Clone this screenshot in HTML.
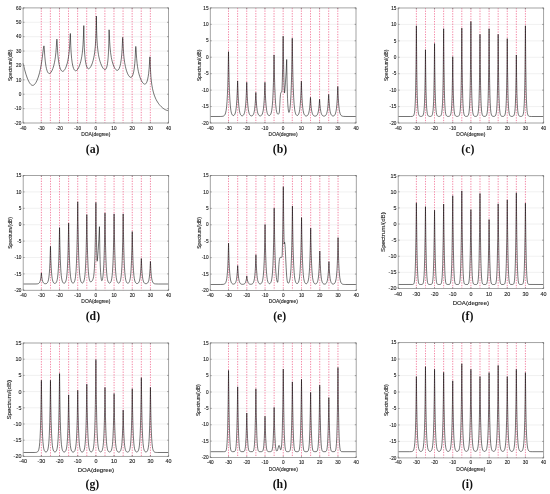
<!DOCTYPE html>
<html><head><meta charset="utf-8"><title>DOA spectra</title><style>
*{margin:0;padding:0}
html,body{width:550px;height:494px;overflow:hidden;background:#fff}
svg{display:block}
.gr{stroke:#ebebeb;stroke-width:0.7}
.rd{stroke:#ee4a78;stroke-width:0.9;stroke-dasharray:1.3 1.3;opacity:0.75}
.cv{fill:none;stroke:#000;stroke-width:0.55;stroke-linejoin:round}
.fr{fill:none;stroke:#9a9a9a;stroke-width:0.9}
.tk{stroke:#666;stroke-width:0.6;fill:none}
.ts{font-family:"Liberation Sans",Arial,sans-serif;font-size:4.7px;fill:#1e1e1e;stroke:#1e1e1e;stroke-width:0.12px}
.tb{font-family:"Liberation Sans",Arial,sans-serif;font-size:5.4px;fill:#1e1e1e;stroke:#1e1e1e;stroke-width:0.12px}
.ls{font-family:"Liberation Sans",Arial,sans-serif;font-size:4.9px;fill:#1e1e1e;stroke:#1e1e1e;stroke-width:0.12px}
.lb{font-family:"Liberation Sans",Arial,sans-serif;font-size:6.15px;fill:#1e1e1e;stroke:#1e1e1e;stroke-width:0.12px}
.pl{font-family:"Liberation Serif","Times New Roman",serif;font-size:11.8px;font-weight:bold;fill:#111}
</style></head>
<body><svg width="550" height="494" viewBox="0 0 550 494">
<defs><filter id="bl" x="-5%" y="-5%" width="110%" height="110%"><feGaussianBlur stdDeviation="0.3"/></filter></defs>
<rect width="550" height="494" fill="#fff"/>
<g filter="url(#bl)"><line x1="23.1" y1="108.61" x2="168.5" y2="108.61" class="gr"/><line x1="23.1" y1="94.22" x2="168.5" y2="94.22" class="gr"/><line x1="23.1" y1="79.84" x2="168.5" y2="79.84" class="gr"/><line x1="23.1" y1="65.45" x2="168.5" y2="65.45" class="gr"/><line x1="23.1" y1="51.06" x2="168.5" y2="51.06" class="gr"/><line x1="23.1" y1="36.68" x2="168.5" y2="36.68" class="gr"/><line x1="23.1" y1="22.29" x2="168.5" y2="22.29" class="gr"/><line x1="41.28" y1="7.9" x2="41.28" y2="123" class="rd"/><line x1="50.36" y1="7.9" x2="50.36" y2="123" class="rd"/><line x1="59.45" y1="7.9" x2="59.45" y2="123" class="rd"/><line x1="68.54" y1="7.9" x2="68.54" y2="123" class="rd"/><line x1="77.62" y1="7.9" x2="77.62" y2="123" class="rd"/><line x1="86.71" y1="7.9" x2="86.71" y2="123" class="rd"/><line x1="95.8" y1="7.9" x2="95.8" y2="123" class="rd"/><line x1="104.89" y1="7.9" x2="104.89" y2="123" class="rd"/><line x1="113.97" y1="7.9" x2="113.97" y2="123" class="rd"/><line x1="123.06" y1="7.9" x2="123.06" y2="123" class="rd"/><line x1="132.15" y1="7.9" x2="132.15" y2="123" class="rd"/><line x1="141.24" y1="7.9" x2="141.24" y2="123" class="rd"/><line x1="150.33" y1="7.9" x2="150.33" y2="123" class="rd"/><path d="M23.1,63.18 24.64,69.61 25.92,74.13 27.28,78.08 27.92,79.63 28.64,81.18 29.37,82.51 30.01,83.48 30.73,84.35 31.37,84.91 32.1,85.28 32.73,85.38 33.37,85.25 34.01,84.9 34.64,84.33 35.37,83.41 36.1,82.23 36.82,80.77 37.55,79.05 38.28,77.04 38.91,75.01 39.55,72.7 40.55,68.34 41.4,63.68 42.18,58.33 43.45,48.03 43.72,46.49 43.95,45.9 44.01,45.87 44.05,45.99 44.16,46.85 44.78,56.23 45.33,61.96 46,66.46 46.43,68.51 46.91,70.23 47.45,71.67 48,72.64 48.55,73.23 48.82,73.4 49.18,73.5 49.45,73.5 49.82,73.39 50.18,73.17 50.54,72.85 51.18,72.05 51.91,70.79 52.82,68.65 53.72,65.77 54.45,62.68 55.05,59.37 55.49,56.2 55.91,52.23 56.27,47.63 56.72,40.45 56.82,39.43 56.91,39.11 57.05,40.55 57.54,50.3 57.92,55.4 58.45,60.25 59.18,64.61 59.63,66.54 60.09,68.05 60.55,69.23 61.09,70.23 61.63,70.9 62.18,71.26 62.45,71.34 62.81,71.33 63.45,71.08 64.08,70.52 64.81,69.53 65.45,68.37 66.08,66.9 66.71,65.1 67.27,63.18 67.75,61.13 68.17,59.01 68.84,54.65 69.36,49.72 69.76,43.99 70.23,34.63 70.36,33.51 70.78,45.81 71.08,51.93 71.6,58.24 72.21,62.9 72.63,65.09 73.08,66.92 73.54,68.3 74.08,69.48 74.63,70.24 75.17,70.66 75.45,70.75 75.81,70.77 76.44,70.54 77.17,69.91 77.99,68.8 78.81,67.27 79.53,65.52 80.17,63.65 80.81,61.34 81.35,58.9 81.81,56.39 82.18,53.84 82.53,50.84 83.03,44.84 83.38,37.92 83.8,25.6 84.07,39.54 84.32,47.39 84.71,54.18 85.26,59.72 85.62,62.2 85.99,64.09 86.41,65.74 86.89,67.11 87.44,68.08 87.98,68.6 88.26,68.72 88.62,68.75 88.9,68.69 89.26,68.5 89.62,68.21 90.07,67.7 90.89,66.43 91.71,64.71 92.44,62.76 93.07,60.64 93.71,58.01 94.26,55.16 94.71,52.13 95.35,46.03 95.79,38.77 96.07,30.42 96.35,16.1 96.63,30.12 96.9,38.01 97.34,45.26 97.97,51.28 98.44,54.41 98.89,56.85 99.44,59.25 100.07,61.54 100.8,63.68 101.53,65.45 102.34,67.07 103.16,68.33 103.89,69.13 104.25,69.4 104.61,69.57 104.9,69.62 105.25,69.56 105.52,69.42 105.8,69.16 106.29,68.37 106.7,67.26 107.16,65.44 107.52,63.36 107.83,61 108.12,57.93 108.52,51.39 108.79,43.75 109.07,29.77 109.19,31.05 109.66,41.7 110.02,46.99 110.59,52.61 111.34,57.51 111.79,59.72 112.34,61.92 112.96,63.98 113.61,65.74 114.34,67.34 115.07,68.6 115.79,69.54 116.52,70.13 117.16,70.34 117.7,70.25 118.25,69.89 118.8,69.18 119.29,68.22 119.79,66.86 120.25,65.2 120.61,63.51 121.28,59.16 121.79,54.01 122.15,48.57 122.57,38.83 122.7,37.39 122.82,38.56 123.22,47.42 123.59,53.25 124.03,58 124.61,62.4 125.43,66.74 126.33,70.2 126.86,71.79 127.42,73.22 127.97,74.4 128.61,75.54 129.33,76.52 130.06,77.16 130.7,77.39 131.02,77.37 131.33,77.25 131.89,76.77 132.42,75.92 132.97,74.56 133.42,72.94 133.8,71.19 134.16,69.01 134.77,63.69 135.15,58.49 135.66,47.77 135.78,46.45 135.87,46.81 135.96,47.86 136.61,58.2 137.15,63.78 137.52,66.65 137.97,69.39 138.42,71.68 138.97,73.97 139.69,76.43 140.51,78.67 141.42,80.65 142.33,82.19 143.24,83.32 143.69,83.72 144.15,84 144.6,84.14 144.96,84.14 145.33,84.03 145.69,83.79 146.07,83.4 146.42,82.86 146.78,82.12 147.14,81.15 147.69,79.17 148.23,76.34 148.63,73.48 149.01,69.83 149.33,65.76 149.8,58.03 149.96,56.8 150.05,57.99 150.36,66.76 150.6,71.87 150.91,76.54 151.32,80.94 151.87,85.07 152.51,88.63 153.32,92.09 154.23,95.05 155.41,98.06 156.14,99.59 156.87,100.95 158.41,103.37 159.32,104.58 160.23,105.64 161.23,106.68 162.23,107.59 163.23,108.39 164.32,109.13 165.41,109.75 166.41,110.2 167.5,110.56 168.5,110.77" class="cv"/><rect x="23.1" y="7.9" width="145.4" height="115.1" class="fr"/><path d="M23.1,123h1.4M168.5,123h-1.4" class="tk"/><path d="M23.1,108.61h1.4M168.5,108.61h-1.4" class="tk"/><path d="M23.1,94.22h1.4M168.5,94.22h-1.4" class="tk"/><path d="M23.1,79.84h1.4M168.5,79.84h-1.4" class="tk"/><path d="M23.1,65.45h1.4M168.5,65.45h-1.4" class="tk"/><path d="M23.1,51.06h1.4M168.5,51.06h-1.4" class="tk"/><path d="M23.1,36.68h1.4M168.5,36.68h-1.4" class="tk"/><path d="M23.1,22.29h1.4M168.5,22.29h-1.4" class="tk"/><path d="M23.1,7.9h1.4M168.5,7.9h-1.4" class="tk"/><path d="M23.1,123v-1.4M23.1,7.9v1.4" class="tk"/><path d="M41.28,123v-1.4M41.28,7.9v1.4" class="tk"/><path d="M59.45,123v-1.4M59.45,7.9v1.4" class="tk"/><path d="M77.62,123v-1.4M77.62,7.9v1.4" class="tk"/><path d="M95.8,123v-1.4M95.8,7.9v1.4" class="tk"/><path d="M113.97,123v-1.4M113.97,7.9v1.4" class="tk"/><path d="M132.15,123v-1.4M132.15,7.9v1.4" class="tk"/><path d="M150.33,123v-1.4M150.33,7.9v1.4" class="tk"/><path d="M168.5,123v-1.4M168.5,7.9v1.4" class="tk"/></g><text x="21.3" y="124.69" class="ts" text-anchor="end">-20</text><text x="21.3" y="110.3" class="ts" text-anchor="end">-10</text><text x="21.3" y="95.92" class="ts" text-anchor="end">0</text><text x="21.3" y="81.53" class="ts" text-anchor="end">10</text><text x="21.3" y="67.14" class="ts" text-anchor="end">20</text><text x="21.3" y="52.75" class="ts" text-anchor="end">30</text><text x="21.3" y="38.37" class="ts" text-anchor="end">40</text><text x="21.3" y="23.98" class="ts" text-anchor="end">50</text><text x="21.3" y="9.59" class="ts" text-anchor="end">60</text><text x="23.1" y="129.58" class="ts" text-anchor="middle">-40</text><text x="41.28" y="129.58" class="ts" text-anchor="middle">-30</text><text x="59.45" y="129.58" class="ts" text-anchor="middle">-20</text><text x="77.62" y="129.58" class="ts" text-anchor="middle">-10</text><text x="95.8" y="129.58" class="ts" text-anchor="middle">0</text><text x="113.97" y="129.58" class="ts" text-anchor="middle">10</text><text x="132.15" y="129.58" class="ts" text-anchor="middle">20</text><text x="150.33" y="129.58" class="ts" text-anchor="middle">30</text><text x="168.5" y="129.58" class="ts" text-anchor="middle">40</text><text x="95.8" y="135.76" class="ls" text-anchor="middle">DOA(degree)</text><text transform="translate(12.26,65.3) rotate(-90)" class="ls" text-anchor="middle">Spectrum/(dB)</text><text x="92.6" y="152.6" class="pl" text-anchor="middle">(a)</text>
<g filter="url(#bl)"><line x1="210.3" y1="106.56" x2="356" y2="106.56" class="gr"/><line x1="210.3" y1="90.11" x2="356" y2="90.11" class="gr"/><line x1="210.3" y1="73.67" x2="356" y2="73.67" class="gr"/><line x1="210.3" y1="57.23" x2="356" y2="57.23" class="gr"/><line x1="210.3" y1="40.79" x2="356" y2="40.79" class="gr"/><line x1="210.3" y1="24.34" x2="356" y2="24.34" class="gr"/><line x1="228.51" y1="7.9" x2="228.51" y2="123" class="rd"/><line x1="237.62" y1="7.9" x2="237.62" y2="123" class="rd"/><line x1="246.73" y1="7.9" x2="246.73" y2="123" class="rd"/><line x1="255.83" y1="7.9" x2="255.83" y2="123" class="rd"/><line x1="264.94" y1="7.9" x2="264.94" y2="123" class="rd"/><line x1="274.04" y1="7.9" x2="274.04" y2="123" class="rd"/><line x1="283.15" y1="7.9" x2="283.15" y2="123" class="rd"/><line x1="292.26" y1="7.9" x2="292.26" y2="123" class="rd"/><line x1="301.36" y1="7.9" x2="301.36" y2="123" class="rd"/><line x1="310.47" y1="7.9" x2="310.47" y2="123" class="rd"/><line x1="319.57" y1="7.9" x2="319.57" y2="123" class="rd"/><line x1="328.68" y1="7.9" x2="328.68" y2="123" class="rd"/><line x1="337.79" y1="7.9" x2="337.79" y2="123" class="rd"/><path d="M210.3,116.5 220.32,116.48 221.86,116.41 222.87,116.27 223.78,115.93 224.14,115.67 224.51,115.31 225.1,114.35 225.6,112.96 226.14,110.4 226.65,106.39 227.06,101.35 227.42,94.71 227.74,86.62 228.03,76.53 228.51,51.64 228.8,67.6 229.11,80.63 229.46,91.38 229.88,99.91 230.33,105.97 230.88,110.39 231.15,111.85 231.52,113.25 231.88,114.21 232.34,114.98 232.84,115.43 233.15,115.55 233.43,115.57 233.97,115.38 234.43,114.93 234.89,114.13 235.25,113.13 235.62,111.68 235.89,110.17 236.43,105.58 236.89,99.3 237.27,91.31 237.62,80.91 238.17,96.04 238.51,101.84 238.89,106.53 239.35,110.17 239.8,112.48 240.08,113.43 240.41,114.27 240.71,114.84 241.08,115.3 241.63,115.69 242.26,115.81 242.9,115.61 243.45,115.14 243.9,114.43 244.29,113.48 244.63,112.26 244.98,110.47 245.54,105.99 246,99.94 246.38,92.24 246.73,82.22 247.27,96.63 247.56,101.54 247.91,105.99 248.27,109.19 248.73,111.86 249.27,113.8 249.55,114.43 249.91,115.04 250.46,115.6 251,115.86 251.66,115.91 252.28,115.71 252.83,115.25 253.28,114.59 253.65,113.77 254.01,112.59 254.31,111.23 254.59,109.54 255.05,105.41 255.47,99.76 255.83,92.42 256.2,99.86 256.65,105.87 257.16,110.12 257.46,111.75 257.74,112.92 258.11,114.01 258.62,114.98 259.11,115.52 259.75,115.86 260.11,115.92 260.47,115.9 261.11,115.66 261.66,115.16 262.21,114.24 262.66,112.96 263.12,110.93 263.51,108.22 263.85,104.92 264.16,100.71 264.45,95.37 264.94,82.22 265.28,92.24 265.67,99.94 266.12,105.99 266.68,110.47 267.03,112.25 267.37,113.46 267.76,114.4 268.22,115.08 268.76,115.5 269.31,115.58 269.87,115.35 270.39,114.79 270.77,114.1 271.13,113.11 271.44,111.92 271.77,110.16 272.3,105.67 272.71,100.18 273.09,92.65 273.45,82.45 273.76,70.08 274.04,54.93 274.39,72.92 274.77,86.67 275.21,97.21 275.67,104.37 276.23,109.51 276.5,111.11 276.87,112.58 277.23,113.49 277.46,113.82 277.69,114.04 277.95,114.14 278.22,114.14 278.51,114.01 278.78,113.8 278.98,113.52 279.15,113.07 279.33,112.22 279.45,111.08 280.14,98.54 280.51,94.36 280.69,93.28 280.91,92.57 281.15,92.23 281.65,91.96 281.78,91.69 281.92,90.93 282.02,89.51 282.31,81.65 282.63,68.64 283.15,36.18 283.42,55.35 283.72,71.01 284.06,84.12 284.39,92.3 284.52,93.04 284.68,92.15 285.46,82.81 286.11,72.16 286.7,59.53 287.07,82.24 287.53,98.28 287.79,103.78 288.12,108.35 288.44,110.98 288.61,111.83 288.84,112.41 288.98,112.49 289.14,112.36 289.43,111.58 289.8,109.71 290.07,107.64 290.53,102.57 290.98,94.56 291.37,84.22 291.7,71.47 292.26,38.15 292.56,58.59 292.89,74.92 293.26,87.68 293.68,97.57 294.17,104.89 294.71,109.77 295.04,111.65 295.44,113.22 295.81,114.19 296.26,114.95 296.54,115.23 296.81,115.4 297.08,115.48 297.36,115.48 297.63,115.39 297.9,115.21 298.36,114.66 298.76,113.85 299.09,112.85 299.45,111.27 299.72,109.63 300.2,105.45 300.64,99.42 301.02,91.54 301.36,81.24 301.65,89.92 301.96,97 302.31,102.84 302.73,107.48 303.18,110.77 303.73,113.18 304,113.96 304.37,114.72 304.77,115.29 305.27,115.71 305.82,115.93 306.37,115.97 306.92,115.84 307.37,115.57 307.74,115.21 308.1,114.68 308.47,113.9 308.74,113.09 309.28,110.62 309.74,107.25 310.12,102.95 310.47,97.35 310.95,104.7 311.25,107.68 311.56,110.03 311.89,111.87 312.29,113.39 312.75,114.52 313.2,115.23 313.75,115.74 314.29,116.01 315.02,116.13 315.75,116.04 316.3,115.81 316.84,115.36 317.3,114.72 317.66,113.95 317.95,113.11 318.24,111.95 318.76,108.92 319.2,104.63 319.57,99.32 319.94,104.56 320.35,108.59 320.82,111.54 321.1,112.74 321.4,113.71 321.76,114.55 322.12,115.13 322.56,115.59 323.04,115.89 323.67,116.08 324.35,116.08 324.95,115.9 325.49,115.55 325.86,115.16 326.13,114.75 326.68,113.5 327.13,111.78 327.5,109.72 327.85,106.85 328.13,103.69 328.68,94.39 329.05,101.13 329.46,106.32 329.92,110.11 330.2,111.66 330.5,112.91 330.81,113.85 331.14,114.58 331.6,115.26 332.05,115.66 332.6,115.92 333.23,115.98 333.87,115.8 334.38,115.46 334.69,115.11 335.06,114.52 335.6,113.11 336.06,111.16 336.51,108.1 336.9,104.14 337.23,99.25 337.79,86.5 338.27,98.01 338.56,102.68 338.88,106.42 339.24,109.49 339.65,111.82 340.16,113.68 340.7,114.86 341.2,115.5 341.79,115.95 342.52,116.23 343.43,116.39 345.98,116.49 356,116.5" class="cv"/><rect x="210.3" y="7.9" width="145.7" height="115.1" class="fr"/><path d="M210.3,123h1.4M356,123h-1.4" class="tk"/><path d="M210.3,106.56h1.4M356,106.56h-1.4" class="tk"/><path d="M210.3,90.11h1.4M356,90.11h-1.4" class="tk"/><path d="M210.3,73.67h1.4M356,73.67h-1.4" class="tk"/><path d="M210.3,57.23h1.4M356,57.23h-1.4" class="tk"/><path d="M210.3,40.79h1.4M356,40.79h-1.4" class="tk"/><path d="M210.3,24.34h1.4M356,24.34h-1.4" class="tk"/><path d="M210.3,7.9h1.4M356,7.9h-1.4" class="tk"/><path d="M210.3,123v-1.4M210.3,7.9v1.4" class="tk"/><path d="M228.51,123v-1.4M228.51,7.9v1.4" class="tk"/><path d="M246.73,123v-1.4M246.73,7.9v1.4" class="tk"/><path d="M264.94,123v-1.4M264.94,7.9v1.4" class="tk"/><path d="M283.15,123v-1.4M283.15,7.9v1.4" class="tk"/><path d="M301.36,123v-1.4M301.36,7.9v1.4" class="tk"/><path d="M319.57,123v-1.4M319.57,7.9v1.4" class="tk"/><path d="M337.79,123v-1.4M337.79,7.9v1.4" class="tk"/><path d="M356,123v-1.4M356,7.9v1.4" class="tk"/></g><text x="208.5" y="124.69" class="ts" text-anchor="end">-20</text><text x="208.5" y="108.25" class="ts" text-anchor="end">-15</text><text x="208.5" y="91.81" class="ts" text-anchor="end">-10</text><text x="208.5" y="75.36" class="ts" text-anchor="end">-5</text><text x="208.5" y="58.92" class="ts" text-anchor="end">0</text><text x="208.5" y="42.48" class="ts" text-anchor="end">5</text><text x="208.5" y="26.03" class="ts" text-anchor="end">10</text><text x="208.5" y="9.59" class="ts" text-anchor="end">15</text><text x="210.3" y="129.58" class="ts" text-anchor="middle">-40</text><text x="228.51" y="129.58" class="ts" text-anchor="middle">-30</text><text x="246.73" y="129.58" class="ts" text-anchor="middle">-20</text><text x="264.94" y="129.58" class="ts" text-anchor="middle">-10</text><text x="283.15" y="129.58" class="ts" text-anchor="middle">0</text><text x="301.36" y="129.58" class="ts" text-anchor="middle">10</text><text x="319.57" y="129.58" class="ts" text-anchor="middle">20</text><text x="337.79" y="129.58" class="ts" text-anchor="middle">30</text><text x="356" y="129.58" class="ts" text-anchor="middle">40</text><text x="283.15" y="135.76" class="ls" text-anchor="middle">DOA(degree)</text><text transform="translate(200.56,65.3) rotate(-90)" class="ls" text-anchor="middle">Spectrum/(dB)</text><text x="280" y="152.8" class="pl" text-anchor="middle">(b)</text>
<g filter="url(#bl)"><line x1="398.2" y1="106.57" x2="543.6" y2="106.57" class="gr"/><line x1="398.2" y1="90.14" x2="543.6" y2="90.14" class="gr"/><line x1="398.2" y1="73.71" x2="543.6" y2="73.71" class="gr"/><line x1="398.2" y1="57.29" x2="543.6" y2="57.29" class="gr"/><line x1="398.2" y1="40.86" x2="543.6" y2="40.86" class="gr"/><line x1="398.2" y1="24.43" x2="543.6" y2="24.43" class="gr"/><line x1="416.38" y1="8" x2="416.38" y2="123" class="rd"/><line x1="425.46" y1="8" x2="425.46" y2="123" class="rd"/><line x1="434.55" y1="8" x2="434.55" y2="123" class="rd"/><line x1="443.64" y1="8" x2="443.64" y2="123" class="rd"/><line x1="452.73" y1="8" x2="452.73" y2="123" class="rd"/><line x1="461.81" y1="8" x2="461.81" y2="123" class="rd"/><line x1="470.9" y1="8" x2="470.9" y2="123" class="rd"/><line x1="479.99" y1="8" x2="479.99" y2="123" class="rd"/><line x1="489.08" y1="8" x2="489.08" y2="123" class="rd"/><line x1="498.16" y1="8" x2="498.16" y2="123" class="rd"/><line x1="507.25" y1="8" x2="507.25" y2="123" class="rd"/><line x1="516.34" y1="8" x2="516.34" y2="123" class="rd"/><line x1="525.42" y1="8" x2="525.42" y2="123" class="rd"/><path d="M398.2,116.5 410.38,116.5 412.29,116.4 413.01,116.17 413.29,115.97 413.56,115.67 413.94,114.93 414.28,113.72 414.52,112.4 414.74,110.56 415.05,106.57 415.36,99.77 415.6,91.57 416.03,65.49 416.38,25.74 416.77,69.56 417.01,84.92 417.26,95.8 417.56,103.84 417.92,109.59 418.11,111.49 418.37,113.26 418.65,114.45 419.01,115.38 419.28,115.79 419.56,116.05 419.92,116.25 420.46,116.39 421.19,116.42 421.82,116.34 422.28,116.16 422.65,115.89 423.1,115.2 423.48,114.07 423.74,112.75 424.04,110.24 424.3,106.85 424.51,102.76 424.87,91.62 425.19,74.12 425.46,49.73 425.74,74.12 426.05,91.62 426.46,103.89 426.7,108.07 426.98,111.19 427.28,113.27 427.64,114.74 428.1,115.67 428.37,115.97 428.73,116.21 429.36,116.39 430.1,116.43 430.82,116.35 431.37,116.13 431.77,115.79 432.1,115.28 432.37,114.58 432.56,113.84 433.01,110.94 433.31,107.28 433.6,101.47 433.82,94.77 434.23,73.9 434.55,43.49 434.82,70.16 435.14,89.29 435.5,101.47 435.73,106.31 436,110.03 436.29,112.47 436.64,114.26 437,115.28 437.28,115.72 437.53,115.99 438,116.26 438.64,116.4 439.46,116.4 440.09,116.26 440.46,116.06 440.82,115.7 441.09,115.24 441.37,114.51 441.64,113.37 441.82,112.26 442.22,108.27 442.55,102.25 442.82,94.05 443.05,83.78 443.27,68.61 443.64,28.7 443.96,65.27 444.36,90.37 444.59,98.43 444.88,105.41 445.18,109.82 445.37,111.65 445.62,113.31 445.82,114.19 446.09,115.03 446.36,115.57 446.73,115.99 447.18,116.26 447.8,116.4 448.64,116.41 449.27,116.3 449.64,116.15 449.94,115.92 450.18,115.64 450.45,115.14 450.87,113.8 451.21,111.74 451.48,108.94 451.73,105.19 452.13,94.19 452.45,78.5 452.73,56.63 453,78.5 453.32,94.19 453.67,104.18 453.91,108.15 454.18,111.2 454.45,113.13 454.72,114.36 455.16,115.46 455.63,116.03 456,116.24 456.54,116.38 457.27,116.42 457.92,116.36 458.36,116.22 458.72,115.99 459.03,115.64 459.27,115.23 459.54,114.5 459.83,113.28 460.08,111.62 460.27,109.77 460.63,104.16 460.93,96.32 461.18,85.73 461.42,70.75 461.81,28.04 462.09,60.35 462.4,83.54 462.76,98.3 462.97,103.72 463.23,108.21 463.54,111.53 463.8,113.28 464.18,114.78 464.54,115.56 464.81,115.9 465.17,116.17 465.63,116.33 466.13,116.4 466.73,116.39 467.26,116.27 467.63,116.09 467.99,115.75 468.36,115.13 468.72,114 468.99,112.56 469.17,111.16 469.45,108.09 469.63,105.11 469.95,96.94 470.22,85.78 470.48,69.55 470.9,21.47 471.32,69.55 471.58,85.78 471.85,96.94 472.17,105.11 472.35,108.09 472.63,111.16 472.81,112.56 473.08,114 473.44,115.13 473.81,115.75 474.17,116.09 474.54,116.27 475.07,116.39 475.63,116.41 476.17,116.34 476.63,116.19 476.99,115.94 477.26,115.63 477.62,114.9 478,113.51 478.26,111.88 478.57,108.79 478.83,104.62 479.04,99.58 479.4,85.86 479.71,64.32 479.99,34.29 480.26,64.32 480.58,85.86 480.99,100.97 481.23,106.12 481.51,109.96 481.81,112.53 482.17,114.33 482.62,115.48 482.96,115.92 483.35,116.19 483.99,116.38 484.8,116.4 485.44,116.29 485.99,115.99 486.35,115.57 486.64,114.98 486.95,113.96 487.17,112.86 487.53,109.82 487.83,105.41 488.13,98.43 488.35,90.26 488.75,65.27 489.08,28.7 489.44,69.1 489.67,83.78 489.9,94.45 490.17,102.25 490.53,108.73 490.93,112.54 491.2,113.96 491.51,114.98 491.8,115.57 492.07,115.91 492.44,116.17 492.89,116.34 493.62,116.41 494.35,116.35 494.89,116.14 495.25,115.85 495.73,115.07 496.16,113.57 496.44,111.88 496.71,109.22 496.98,105.03 497.21,99.58 497.57,85.86 497.89,64.32 498.16,34.29 498.53,71.65 498.75,85.86 498.98,95.48 499.25,103.15 499.58,108.79 499.98,112.53 500.16,113.57 500.43,114.64 500.71,115.32 500.98,115.75 501.34,116.09 501.71,116.27 502.43,116.41 503.25,116.38 503.85,116.23 504.27,115.95 504.52,115.67 504.8,115.2 505.16,114.11 505.51,112.2 505.8,109.6 506.07,105.63 506.3,100.46 506.66,87.45 506.98,67.03 507.25,38.56 507.57,71.02 507.98,93.31 508.2,100.46 508.49,106.66 508.79,110.57 509.24,113.66 509.43,114.45 509.7,115.2 509.98,115.67 510.34,116.05 510.79,116.28 511.43,116.41 512.25,116.41 512.98,116.27 513.36,116.07 513.7,115.74 514.16,114.88 514.52,113.53 514.82,111.61 515.1,108.73 515.34,104.88 515.75,93.58 516.06,77.45 516.34,54.99 516.61,77.45 516.93,93.58 517.29,103.84 517.5,107.61 517.76,110.73 518.06,113.04 518.32,114.26 518.7,115.3 519.15,115.94 519.52,116.19 519.98,116.35 520.61,116.42 521.34,116.39 521.88,116.25 522.24,116.05 522.52,115.79 522.79,115.38 523.15,114.45 523.43,113.26 523.69,111.49 523.88,109.59 524.24,103.84 524.54,95.8 524.79,84.92 525.03,69.56 525.42,25.74 525.77,65.49 526.2,91.57 526.44,99.77 526.75,106.57 527.06,110.56 527.28,112.4 527.52,113.72 527.86,114.93 528.24,115.67 528.51,115.97 528.79,116.17 529.51,116.4 531.42,116.5 543.6,116.5" class="cv"/><rect x="398.2" y="8" width="145.4" height="115" class="fr"/><path d="M398.2,123h1.4M543.6,123h-1.4" class="tk"/><path d="M398.2,106.57h1.4M543.6,106.57h-1.4" class="tk"/><path d="M398.2,90.14h1.4M543.6,90.14h-1.4" class="tk"/><path d="M398.2,73.71h1.4M543.6,73.71h-1.4" class="tk"/><path d="M398.2,57.29h1.4M543.6,57.29h-1.4" class="tk"/><path d="M398.2,40.86h1.4M543.6,40.86h-1.4" class="tk"/><path d="M398.2,24.43h1.4M543.6,24.43h-1.4" class="tk"/><path d="M398.2,8h1.4M543.6,8h-1.4" class="tk"/><path d="M398.2,123v-1.4M398.2,8v1.4" class="tk"/><path d="M416.38,123v-1.4M416.38,8v1.4" class="tk"/><path d="M434.55,123v-1.4M434.55,8v1.4" class="tk"/><path d="M452.73,123v-1.4M452.73,8v1.4" class="tk"/><path d="M470.9,123v-1.4M470.9,8v1.4" class="tk"/><path d="M489.08,123v-1.4M489.08,8v1.4" class="tk"/><path d="M507.25,123v-1.4M507.25,8v1.4" class="tk"/><path d="M525.42,123v-1.4M525.42,8v1.4" class="tk"/><path d="M543.6,123v-1.4M543.6,8v1.4" class="tk"/></g><text x="396.4" y="124.69" class="ts" text-anchor="end">-20</text><text x="396.4" y="108.26" class="ts" text-anchor="end">-15</text><text x="396.4" y="91.83" class="ts" text-anchor="end">-10</text><text x="396.4" y="75.41" class="ts" text-anchor="end">-5</text><text x="396.4" y="58.98" class="ts" text-anchor="end">0</text><text x="396.4" y="42.55" class="ts" text-anchor="end">5</text><text x="396.4" y="26.12" class="ts" text-anchor="end">10</text><text x="396.4" y="9.69" class="ts" text-anchor="end">15</text><text x="398.2" y="129.58" class="ts" text-anchor="middle">-40</text><text x="416.38" y="129.58" class="ts" text-anchor="middle">-30</text><text x="434.55" y="129.58" class="ts" text-anchor="middle">-20</text><text x="452.73" y="129.58" class="ts" text-anchor="middle">-10</text><text x="470.9" y="129.58" class="ts" text-anchor="middle">0</text><text x="489.08" y="129.58" class="ts" text-anchor="middle">10</text><text x="507.25" y="129.58" class="ts" text-anchor="middle">20</text><text x="525.42" y="129.58" class="ts" text-anchor="middle">30</text><text x="543.6" y="129.58" class="ts" text-anchor="middle">40</text><text x="470.9" y="135.76" class="ls" text-anchor="middle">DOA(degree)</text><text transform="translate(387.76,65.3) rotate(-90)" class="ls" text-anchor="middle">Spectrum/(dB)</text><text x="467.8" y="153" class="pl" text-anchor="middle">(c)</text>
<g filter="url(#bl)"><line x1="23.2" y1="273.9" x2="168.6" y2="273.9" class="gr"/><line x1="23.2" y1="257.5" x2="168.6" y2="257.5" class="gr"/><line x1="23.2" y1="241.1" x2="168.6" y2="241.1" class="gr"/><line x1="23.2" y1="224.7" x2="168.6" y2="224.7" class="gr"/><line x1="23.2" y1="208.3" x2="168.6" y2="208.3" class="gr"/><line x1="23.2" y1="191.9" x2="168.6" y2="191.9" class="gr"/><line x1="41.38" y1="175.5" x2="41.38" y2="290.3" class="rd"/><line x1="50.46" y1="175.5" x2="50.46" y2="290.3" class="rd"/><line x1="59.55" y1="175.5" x2="59.55" y2="290.3" class="rd"/><line x1="68.64" y1="175.5" x2="68.64" y2="290.3" class="rd"/><line x1="77.73" y1="175.5" x2="77.73" y2="290.3" class="rd"/><line x1="86.81" y1="175.5" x2="86.81" y2="290.3" class="rd"/><line x1="95.9" y1="175.5" x2="95.9" y2="290.3" class="rd"/><line x1="104.99" y1="175.5" x2="104.99" y2="290.3" class="rd"/><line x1="114.08" y1="175.5" x2="114.08" y2="290.3" class="rd"/><line x1="123.16" y1="175.5" x2="123.16" y2="290.3" class="rd"/><line x1="132.25" y1="175.5" x2="132.25" y2="290.3" class="rd"/><line x1="141.34" y1="175.5" x2="141.34" y2="290.3" class="rd"/><line x1="150.43" y1="175.5" x2="150.43" y2="290.3" class="rd"/><path d="M23.2,284 36.1,283.97 37.65,283.82 38.19,283.67 38.65,283.45 39.19,282.99 39.64,282.36 40.01,281.53 40.36,280.37 40.65,279.01 40.92,277.28 41.38,272.92 41.74,276.57 42.15,279.27 42.62,281.17 42.89,281.91 43.19,282.49 43.56,282.98 44.01,283.37 44.56,283.62 45.19,283.73 45.83,283.7 46.46,283.5 46.92,283.22 47.37,282.73 47.74,282.12 48.01,281.47 48.48,279.77 48.92,277.12 49.3,273.5 49.64,268.69 49.95,262.7 50.46,246.35 50.81,258.26 51.19,267.08 51.64,273.74 51.92,276.4 52.19,278.37 52.46,279.82 52.83,281.19 53.24,282.21 53.73,282.91 54.01,283.15 54.37,283.34 54.73,283.41 55.09,283.39 55.46,283.26 55.73,283.08 56.28,282.43 56.64,281.69 57.01,280.57 57.28,279.37 57.55,277.76 58.01,273.71 58.37,268.64 58.72,261.36 59.03,252.12 59.55,227.65 59.9,245.48 60.28,258.68 60.73,268.64 61,272.62 61.28,275.57 61.55,277.75 61.91,279.81 62.28,281.18 62.73,282.25 63.28,282.95 63.55,283.14 63.91,283.26 64.28,283.25 64.55,283.15 64.91,282.89 65.18,282.57 65.55,281.93 65.91,280.95 66.21,279.8 66.51,278.12 67,273.93 67.4,268.45 67.75,261.03 68.08,250.86 68.37,238.43 68.64,223.06 68.96,241.3 69.31,255.08 69.73,265.65 70,270.4 70.27,273.93 70.55,276.54 70.91,278.99 71.27,280.63 71.73,281.92 72,282.41 72.28,282.76 72.55,282.98 72.91,283.12 73.27,283.1 73.54,282.98 73.83,282.74 74.09,282.41 74.54,281.49 74.91,280.28 75.27,278.47 75.54,276.54 76,271.7 76.45,263.71 76.84,252.99 77.17,239.26 77.46,222.48 77.73,201.74 78.01,223.71 78.32,241.12 78.67,255.02 79.09,265.65 79.54,272.87 79.82,275.75 80.09,277.89 80.45,279.89 80.81,281.22 81.27,282.25 81.71,282.79 82.05,282.99 82.36,283.05 82.65,282.99 83,282.76 83.27,282.46 83.54,282.01 84,280.83 84.36,279.31 84.69,277.3 85,274.6 85.27,271.31 85.73,262.94 86.14,251.03 86.49,235.32 86.81,214.53 87.18,237.43 87.59,254.39 88.08,266.87 88.36,271.31 88.72,275.48 89.09,278.24 89.54,280.3 90,281.39 90.27,281.71 90.63,281.89 91.08,281.83 91.54,281.53 92.01,281.02 92.45,280.34 92.81,279.59 93.12,278.74 93.63,276.54 94.04,273.18 94.38,268.6 94.72,261.76 94.99,254.08 95.48,232.76 95.9,202.4 96.16,222.97 96.45,239.21 96.79,253.22 97.06,260.39 97.17,261.22 97.35,260.23 98.17,250.54 98.85,239.38 99.44,226.67 99.84,250.72 100.07,259.63 100.33,267.06 100.63,272.7 100.96,276.84 101.3,279.3 101.53,280.23 101.72,280.61 101.88,280.7 102.05,280.59 102.35,279.85 102.63,278.62 102.9,276.84 103.36,272.09 103.81,264.62 104.16,255.44 104.47,243.76 104.99,212.89 105.25,230.82 105.54,245.33 105.87,257.19 106.26,266.46 106.71,273.36 106.97,276.02 107.26,278.16 107.53,279.67 107.9,281.08 108.26,282.01 108.71,282.7 108.99,282.95 109.35,283.11 109.71,283.11 109.99,283.01 110.26,282.81 110.53,282.49 110.8,282.03 111.08,281.38 111.47,279.98 111.8,278.24 112.17,275.41 112.45,272.26 112.98,262.88 113.4,250.72 113.75,234.86 114.08,213.88 114.44,236.99 114.85,254.11 115.35,266.71 115.62,271.19 115.93,274.92 116.26,277.64 116.71,280.13 117.16,281.62 117.48,282.28 117.8,282.72 118.16,283.01 118.62,283.14 119.07,283.01 119.44,282.72 119.76,282.28 120.07,281.62 120.35,280.82 120.62,279.73 121.07,276.97 121.53,272.41 121.89,266.71 122.16,260.66 122.44,252.4 122.71,241.47 123.16,213.88 123.43,231.56 123.72,245.86 124.05,257.56 124.4,266.1 124.8,272.41 125.29,277.24 125.59,279.17 125.89,280.5 126.25,281.63 126.62,282.38 127.16,283 127.48,283.18 127.8,283.24 128.08,283.21 128.43,283.06 128.8,282.74 129.07,282.37 129.52,281.37 129.89,280.1 130.25,278.19 130.52,276.16 130.8,273.42 131.07,269.72 131.52,260.45 131.9,248.17 132.25,231.59 132.51,244.8 132.8,255.5 133.14,264.24 133.49,270.62 133.89,275.34 134.34,278.74 134.89,281.11 135.23,282 135.61,282.68 136.14,283.22 136.7,283.48 137.35,283.52 137.98,283.3 138.52,282.82 138.91,282.23 139.25,281.43 139.61,280.18 139.88,278.85 140.16,277.05 140.61,272.53 140.99,266.56 141.34,258.48 141.85,269.56 142.16,273.63 142.5,276.88 142.88,279.34 143.32,281.13 143.79,282.28 144.06,282.72 144.43,283.13 144.98,283.49 145.66,283.67 146.43,283.64 147.06,283.41 147.61,282.97 147.99,282.44 148.33,281.73 148.69,280.66 148.97,279.44 149.24,277.85 149.7,273.86 150.08,268.57 150.43,261.44 150.88,270.31 151.15,273.83 151.44,276.61 151.79,278.97 152.16,280.66 152.61,281.95 153.15,282.88 153.61,283.32 154.15,283.63 154.79,283.81 155.7,283.93 158.15,284 168.6,284" class="cv"/><rect x="23.2" y="175.5" width="145.4" height="114.8" class="fr"/><path d="M23.2,290.3h1.4M168.6,290.3h-1.4" class="tk"/><path d="M23.2,273.9h1.4M168.6,273.9h-1.4" class="tk"/><path d="M23.2,257.5h1.4M168.6,257.5h-1.4" class="tk"/><path d="M23.2,241.1h1.4M168.6,241.1h-1.4" class="tk"/><path d="M23.2,224.7h1.4M168.6,224.7h-1.4" class="tk"/><path d="M23.2,208.3h1.4M168.6,208.3h-1.4" class="tk"/><path d="M23.2,191.9h1.4M168.6,191.9h-1.4" class="tk"/><path d="M23.2,175.5h1.4M168.6,175.5h-1.4" class="tk"/><path d="M23.2,290.3v-1.4M23.2,175.5v1.4" class="tk"/><path d="M41.38,290.3v-1.4M41.38,175.5v1.4" class="tk"/><path d="M59.55,290.3v-1.4M59.55,175.5v1.4" class="tk"/><path d="M77.73,290.3v-1.4M77.73,175.5v1.4" class="tk"/><path d="M95.9,290.3v-1.4M95.9,175.5v1.4" class="tk"/><path d="M114.08,290.3v-1.4M114.08,175.5v1.4" class="tk"/><path d="M132.25,290.3v-1.4M132.25,175.5v1.4" class="tk"/><path d="M150.43,290.3v-1.4M150.43,175.5v1.4" class="tk"/><path d="M168.6,290.3v-1.4M168.6,175.5v1.4" class="tk"/></g><text x="21.4" y="291.99" class="ts" text-anchor="end">-20</text><text x="21.4" y="275.59" class="ts" text-anchor="end">-15</text><text x="21.4" y="259.19" class="ts" text-anchor="end">-10</text><text x="21.4" y="242.79" class="ts" text-anchor="end">-5</text><text x="21.4" y="226.39" class="ts" text-anchor="end">0</text><text x="21.4" y="209.99" class="ts" text-anchor="end">5</text><text x="21.4" y="193.59" class="ts" text-anchor="end">10</text><text x="21.4" y="177.19" class="ts" text-anchor="end">15</text><text x="23.2" y="296.88" class="ts" text-anchor="middle">-40</text><text x="41.38" y="296.88" class="ts" text-anchor="middle">-30</text><text x="59.55" y="296.88" class="ts" text-anchor="middle">-20</text><text x="77.73" y="296.88" class="ts" text-anchor="middle">-10</text><text x="95.9" y="296.88" class="ts" text-anchor="middle">0</text><text x="114.08" y="296.88" class="ts" text-anchor="middle">10</text><text x="132.25" y="296.88" class="ts" text-anchor="middle">20</text><text x="150.43" y="296.88" class="ts" text-anchor="middle">30</text><text x="168.6" y="296.88" class="ts" text-anchor="middle">40</text><text x="95.9" y="303.26" class="ls" text-anchor="middle">DOA(degree)</text><text transform="translate(12.26,233) rotate(-90)" class="ls" text-anchor="middle">Spectrum/(dB)</text><text x="92.9" y="320.3" class="pl" text-anchor="middle">(d)</text>
<g filter="url(#bl)"><line x1="210.3" y1="274.07" x2="356.3" y2="274.07" class="gr"/><line x1="210.3" y1="257.64" x2="356.3" y2="257.64" class="gr"/><line x1="210.3" y1="241.21" x2="356.3" y2="241.21" class="gr"/><line x1="210.3" y1="224.79" x2="356.3" y2="224.79" class="gr"/><line x1="210.3" y1="208.36" x2="356.3" y2="208.36" class="gr"/><line x1="210.3" y1="191.93" x2="356.3" y2="191.93" class="gr"/><line x1="228.55" y1="175.5" x2="228.55" y2="290.5" class="rd"/><line x1="237.68" y1="175.5" x2="237.68" y2="290.5" class="rd"/><line x1="246.8" y1="175.5" x2="246.8" y2="290.5" class="rd"/><line x1="255.93" y1="175.5" x2="255.93" y2="290.5" class="rd"/><line x1="265.05" y1="175.5" x2="265.05" y2="290.5" class="rd"/><line x1="274.18" y1="175.5" x2="274.18" y2="290.5" class="rd"/><line x1="283.3" y1="175.5" x2="283.3" y2="290.5" class="rd"/><line x1="292.43" y1="175.5" x2="292.43" y2="290.5" class="rd"/><line x1="301.55" y1="175.5" x2="301.55" y2="290.5" class="rd"/><line x1="310.68" y1="175.5" x2="310.68" y2="290.5" class="rd"/><line x1="319.8" y1="175.5" x2="319.8" y2="290.5" class="rd"/><line x1="328.93" y1="175.5" x2="328.93" y2="290.5" class="rd"/><line x1="338.05" y1="175.5" x2="338.05" y2="290.5" class="rd"/><path d="M210.3,284.5 220.79,284.49 223.26,284.37 224.17,284.16 224.81,283.82 225.36,283.25 225.81,282.44 226.36,280.75 226.81,278.39 227.18,275.28 227.53,270.97 227.82,265.88 228.09,259.44 228.55,243.19 229.07,261.12 229.38,267.9 229.74,273.24 230.1,276.95 230.56,279.92 231.11,281.98 231.47,282.81 231.84,283.35 232.38,283.84 232.93,284.07 233.57,284.13 234.26,283.99 234.75,283.69 235.21,283.21 235.58,282.59 235.93,281.69 236.22,280.67 236.49,279.33 236.95,275.98 237.33,271.53 237.68,265.53 238.13,272.99 238.4,275.95 238.69,278.29 239.04,280.27 239.41,281.66 239.81,282.67 240.29,283.41 240.69,283.79 241.23,284.1 241.86,284.27 242.51,284.33 243.24,284.29 243.88,284.14 244.43,283.86 244.88,283.46 245.25,282.95 245.52,282.41 246.02,280.89 246.44,278.83 246.8,276.04 247.17,278.83 247.58,280.89 248.08,282.41 248.35,282.95 248.67,283.4 249.08,283.79 249.59,284.08 250.18,284.24 250.81,284.29 251.45,284.23 252.01,284.07 252.51,283.78 252.91,283.39 253.48,282.45 254.01,280.85 254.47,278.48 254.83,275.52 255.15,271.79 255.44,266.99 255.93,254.69 256.25,263.61 256.61,270.35 257.02,275.52 257.29,277.85 257.57,279.57 257.84,280.84 258.21,282.04 258.57,282.84 259.03,283.45 259.58,283.84 260.21,283.96 260.85,283.79 261.39,283.36 261.85,282.67 262.22,281.79 262.59,280.46 262.86,279.05 263.32,275.52 263.77,269.69 264.16,261.86 264.49,251.85 264.78,239.6 265.05,224.46 265.37,242.42 265.73,256 266.14,266.42 266.42,271.1 266.69,274.57 266.97,277.15 267.33,279.57 267.66,281.06 268.06,282.25 268.34,282.8 268.61,283.18 268.88,283.44 269.16,283.6 269.52,283.66 269.84,283.6 270.16,283.41 270.43,283.14 270.89,282.37 271.25,281.37 271.62,279.84 271.89,278.22 272.18,275.92 272.44,273.06 272.9,265.64 273.28,255.67 273.62,242.91 273.91,227.31 274.18,208.03 274.44,227.31 274.73,242.91 275.07,255.67 275.42,264.98 275.82,271.86 276.36,277.49 276.64,279.35 277,281.02 277.37,282.09 277.55,282.32 277.64,282.31 277.83,281.75 278.06,279.73 278.92,264.6 279.19,261.31 279.46,259.29 279.74,258.13 279.92,257.74 280.11,257.51 280.46,257.35 281.64,257.3 281.9,257.16 282.05,256.57 282.16,255.34 282.44,246.24 282.78,229.15 283.3,186.67 283.7,221.19 284.12,243.42 284.21,243.93 284.43,242.52 284.52,242.26 284.6,242.21 284.77,242.76 284.93,244.11 285.3,249.56 286.13,267.16 286.59,275.04 286.86,278.14 287.13,280.33 287.48,282.02 287.86,282.92 288.09,283.14 288.32,283.2 288.59,283.08 288.87,282.78 289.36,281.72 289.78,280.17 290.14,278.07 290.43,275.69 290.97,268.66 291.41,258.8 291.79,245.42 292.12,228.24 292.43,206.06 292.69,225.84 292.98,241.84 293.32,254.93 293.7,265.16 294.16,272.77 294.42,275.69 294.71,278.06 294.98,279.72 295.35,281.28 295.71,282.31 296.17,283.09 296.44,283.37 296.76,283.56 297.08,283.61 297.44,283.52 297.72,283.34 297.99,283.05 298.26,282.61 298.54,282 298.94,280.66 299.27,279 299.63,276.3 299.91,273.43 300.18,269.56 300.45,264.34 300.87,252.73 301.23,237.59 301.55,217.56 301.82,234.44 302.11,248.09 302.44,259.26 302.83,267.99 303.28,274.49 303.74,278.43 304.01,280 304.38,281.47 304.75,282.45 305.2,283.19 305.47,283.46 305.84,283.67 306.2,283.73 306.48,283.69 307.02,283.36 307.57,282.58 308.03,281.38 308.39,279.86 308.76,277.59 309.03,275.17 309.31,271.91 309.58,267.5 309.99,257.72 310.35,244.96 310.68,228.07 310.94,242.3 311.23,253.81 311.57,263.23 311.92,270.1 312.32,275.17 312.59,277.59 312.87,279.38 313.14,280.7 313.47,281.85 313.87,282.77 314.23,283.31 314.78,283.77 315.15,283.91 315.46,283.95 315.79,283.91 316.14,283.78 316.7,283.34 317.15,282.64 317.52,281.75 317.88,280.4 318.16,278.97 318.43,277.04 318.7,274.43 319.12,268.64 319.48,261.07 319.8,251.07 320.26,264.22 320.53,269.44 320.82,273.55 321.17,277.04 321.53,279.5 321.93,281.27 322.41,282.58 322.9,283.37 323.46,283.85 324.18,284.11 325.01,284.09 325.64,283.83 326.19,283.34 326.64,282.61 327.06,281.53 327.37,280.31 327.65,278.85 328.15,274.73 328.56,269.14 328.93,261.59 329.29,269.14 329.7,274.73 330.17,278.65 330.45,280.19 330.75,281.39 331.12,282.41 331.54,283.17 332.03,283.69 332.58,283.99 333.31,284.07 333.67,284.01 334.03,283.86 334.58,283.42 335.06,282.71 335.4,281.91 335.68,281.01 336.18,278.43 336.59,275.03 336.96,270.37 337.27,264.51 337.56,256.96 338.05,237.6 338.51,256.05 338.78,263.37 339.07,269.14 339.42,274.04 339.79,277.57 340.24,280.25 340.79,282.16 341.24,283.08 341.79,283.72 342.43,284.11 343.34,284.36 344.35,284.45 345.81,284.49 356.3,284.5" class="cv"/><rect x="210.3" y="175.5" width="146" height="115" class="fr"/><path d="M210.3,290.5h1.4M356.3,290.5h-1.4" class="tk"/><path d="M210.3,274.07h1.4M356.3,274.07h-1.4" class="tk"/><path d="M210.3,257.64h1.4M356.3,257.64h-1.4" class="tk"/><path d="M210.3,241.21h1.4M356.3,241.21h-1.4" class="tk"/><path d="M210.3,224.79h1.4M356.3,224.79h-1.4" class="tk"/><path d="M210.3,208.36h1.4M356.3,208.36h-1.4" class="tk"/><path d="M210.3,191.93h1.4M356.3,191.93h-1.4" class="tk"/><path d="M210.3,175.5h1.4M356.3,175.5h-1.4" class="tk"/><path d="M210.3,290.5v-1.4M210.3,175.5v1.4" class="tk"/><path d="M228.55,290.5v-1.4M228.55,175.5v1.4" class="tk"/><path d="M246.8,290.5v-1.4M246.8,175.5v1.4" class="tk"/><path d="M265.05,290.5v-1.4M265.05,175.5v1.4" class="tk"/><path d="M283.3,290.5v-1.4M283.3,175.5v1.4" class="tk"/><path d="M301.55,290.5v-1.4M301.55,175.5v1.4" class="tk"/><path d="M319.8,290.5v-1.4M319.8,175.5v1.4" class="tk"/><path d="M338.05,290.5v-1.4M338.05,175.5v1.4" class="tk"/><path d="M356.3,290.5v-1.4M356.3,175.5v1.4" class="tk"/></g><text x="208.5" y="292.19" class="ts" text-anchor="end">-20</text><text x="208.5" y="275.76" class="ts" text-anchor="end">-15</text><text x="208.5" y="259.33" class="ts" text-anchor="end">-10</text><text x="208.5" y="242.91" class="ts" text-anchor="end">-5</text><text x="208.5" y="226.48" class="ts" text-anchor="end">0</text><text x="208.5" y="210.05" class="ts" text-anchor="end">5</text><text x="208.5" y="193.62" class="ts" text-anchor="end">10</text><text x="208.5" y="177.19" class="ts" text-anchor="end">15</text><text x="210.3" y="297.08" class="ts" text-anchor="middle">-40</text><text x="228.55" y="297.08" class="ts" text-anchor="middle">-30</text><text x="246.8" y="297.08" class="ts" text-anchor="middle">-20</text><text x="265.05" y="297.08" class="ts" text-anchor="middle">-10</text><text x="283.3" y="297.08" class="ts" text-anchor="middle">0</text><text x="301.55" y="297.08" class="ts" text-anchor="middle">10</text><text x="319.8" y="297.08" class="ts" text-anchor="middle">20</text><text x="338.05" y="297.08" class="ts" text-anchor="middle">30</text><text x="356.3" y="297.08" class="ts" text-anchor="middle">40</text><text x="283.3" y="303.26" class="ls" text-anchor="middle">DOA(degree)</text><text transform="translate(200.56,233) rotate(-90)" class="ls" text-anchor="middle">Spectrum/(dB)</text><text x="279.7" y="320.3" class="pl" text-anchor="middle">(e)</text>
<g filter="url(#bl)"><line x1="398.2" y1="272.39" x2="543.6" y2="272.39" class="gr"/><line x1="398.2" y1="256.27" x2="543.6" y2="256.27" class="gr"/><line x1="398.2" y1="240.16" x2="543.6" y2="240.16" class="gr"/><line x1="398.2" y1="224.04" x2="543.6" y2="224.04" class="gr"/><line x1="398.2" y1="207.93" x2="543.6" y2="207.93" class="gr"/><line x1="398.2" y1="191.81" x2="543.6" y2="191.81" class="gr"/><line x1="416.38" y1="175.7" x2="416.38" y2="288.5" class="rd"/><line x1="425.46" y1="175.7" x2="425.46" y2="288.5" class="rd"/><line x1="434.55" y1="175.7" x2="434.55" y2="288.5" class="rd"/><line x1="443.64" y1="175.7" x2="443.64" y2="288.5" class="rd"/><line x1="452.73" y1="175.7" x2="452.73" y2="288.5" class="rd"/><line x1="461.81" y1="175.7" x2="461.81" y2="288.5" class="rd"/><line x1="470.9" y1="175.7" x2="470.9" y2="288.5" class="rd"/><line x1="479.99" y1="175.7" x2="479.99" y2="288.5" class="rd"/><line x1="489.08" y1="175.7" x2="489.08" y2="288.5" class="rd"/><line x1="498.16" y1="175.7" x2="498.16" y2="288.5" class="rd"/><line x1="507.25" y1="175.7" x2="507.25" y2="288.5" class="rd"/><line x1="516.34" y1="175.7" x2="516.34" y2="288.5" class="rd"/><line x1="525.42" y1="175.7" x2="525.42" y2="288.5" class="rd"/><path d="M398.2,284.5 412.74,284.46 413.29,284.33 413.65,284.05 414.01,283.37 414.25,282.54 414.64,279.91 414.96,275.8 415.21,270.37 415.49,261.79 415.95,237.9 416.38,202.77 416.86,241.84 417.1,255.06 417.37,265.75 417.65,272.99 418,278.7 418.36,281.82 418.56,282.77 418.81,283.55 419.19,284.14 419.46,284.33 419.83,284.44 420.65,284.49 421.82,284.47 422.28,284.37 422.65,284.16 423.03,283.59 423.34,282.63 423.6,281.12 423.84,278.98 424.1,275.26 424.3,271.04 424.74,256.46 425.12,234.98 425.46,206.64 425.89,240.11 426.35,262.86 426.62,271.04 426.88,276.21 427.19,280.03 427.55,282.47 427.74,283.18 428.01,283.81 428.24,284.13 428.55,284.34 429.19,284.47 430.37,284.49 431.1,284.44 431.57,284.29 432.01,283.84 432.37,282.93 432.64,281.6 432.91,279.35 433.19,275.68 433.39,271.66 433.82,257.73 434.2,237.23 434.55,210.18 434.9,237.23 435.28,257.73 435.71,271.66 435.91,275.68 436.17,279.23 436.41,281.27 436.68,282.72 437,283.68 437.19,283.98 437.46,284.24 437.82,284.41 438.37,284.48 439.73,284.49 440.37,284.4 440.66,284.27 440.91,284.05 441.18,283.61 441.36,283.13 441.55,282.41 441.78,281 442.12,277.44 442.4,272.5 442.69,264.35 443.18,240.67 443.64,204.06 443.98,233.34 444.36,255.53 444.8,270.6 445,274.96 445.26,278.79 445.5,281 445.73,282.41 446.07,283.56 446.42,284.11 446.73,284.33 447.18,284.45 448.91,284.48 449.64,284.31 449.91,284.11 450.09,283.88 450.36,283.28 450.63,282.19 450.87,280.64 451.09,278.35 451.4,273.22 451.71,264.63 452,252.51 452.24,238.14 452.73,195.68 453.05,226.21 453.4,249.91 453.81,266.93 454.05,273.22 454.27,277.11 454.46,279.51 454.72,281.66 455,282.99 455.36,283.88 455.63,284.19 455.91,284.36 456.81,284.49 457.82,284.49 458.41,284.42 458.81,284.25 459.09,283.98 459.38,283.41 459.63,282.52 459.9,280.85 460.08,279.24 460.45,273.39 460.73,265.98 461.04,253.25 461.3,237.98 461.81,190.85 462.33,237.98 462.59,253.25 462.9,265.98 463.18,273.39 463.55,279.24 463.72,280.85 463.99,282.52 464.27,283.47 464.59,284.05 464.9,284.3 465.27,284.43 466.81,284.49 467.72,284.38 467.99,284.24 468.26,283.97 468.63,283.22 468.9,282.11 469.16,280.29 469.36,278.26 469.57,274.98 469.82,269.68 470.22,255.3 470.58,235.31 470.9,209.54 471.25,236.82 471.63,257.5 472.06,271.54 472.26,275.61 472.54,279.31 472.81,281.58 473.08,282.92 473.44,283.84 473.63,284.08 473.9,284.3 474.44,284.46 475.35,284.5 476.35,284.46 476.9,284.31 477.21,284.06 477.44,283.7 477.71,282.95 477.9,282.13 478.26,279.27 478.57,274.81 478.83,268.76 479.1,259.19 479.56,232.57 479.99,193.43 480.47,236.96 480.71,251.7 480.99,263.61 481.26,271.68 481.61,278.04 481.97,281.52 482.17,282.57 482.42,283.44 482.8,284.1 483.08,284.31 483.44,284.43 484.17,284.49 485.43,284.47 485.89,284.39 486.26,284.22 486.64,283.74 486.95,282.94 487.22,281.68 487.45,279.89 487.71,276.79 487.91,273.27 488.35,261.1 488.73,243.18 489.08,219.53 489.42,243.18 489.8,261.1 490.24,273.27 490.44,276.79 490.71,280 490.98,281.97 491.26,283.13 491.62,283.93 492.07,284.32 492.62,284.46 493.53,284.5 494.53,284.47 495.07,284.33 495.38,284.11 495.62,283.79 495.89,283.13 496.07,282.4 496.44,279.86 496.74,275.9 497,270.54 497.28,262.06 497.74,238.45 498.16,203.74 498.51,233.13 498.89,255.41 499.32,270.54 499.53,274.92 499.79,278.77 500.02,280.99 500.29,282.56 500.62,283.61 500.8,283.93 501.07,284.22 501.43,284.4 501.98,284.48 503.34,284.48 503.98,284.39 504.27,284.26 504.52,284.03 504.8,283.57 504.98,283.06 505.16,282.3 505.39,280.82 505.73,277.08 506.01,271.88 506.3,263.3 506.8,238.39 507.25,199.87 507.6,230.67 507.98,254.02 508.41,269.87 508.61,274.46 508.87,278.5 509.11,280.82 509.34,282.3 509.68,283.51 510.03,284.09 510.34,284.32 510.79,284.45 512.52,284.48 513.25,284.31 513.52,284.1 513.74,283.8 513.97,283.24 514.25,282.11 514.48,280.51 514.7,278.14 515.01,272.85 515.32,263.98 515.61,251.46 515.85,236.63 516.34,192.78 516.79,234.53 517.29,261.52 517.58,270.82 517.86,276.45 518.2,280.51 518.43,282.11 518.61,282.94 518.79,283.49 519.06,283.99 519.31,284.24 519.61,284.38 520.25,284.48 521.61,284.48 522.15,284.4 522.52,284.22 522.79,283.93 522.97,283.6 523.3,282.55 523.57,280.96 523.8,278.73 524.06,274.84 524.26,270.43 524.7,255.18 525.08,232.72 525.42,203.09 525.85,238.09 526.31,261.88 526.59,270.43 526.84,275.83 527.16,279.93 527.55,282.55 527.79,283.38 528.15,284.05 528.51,284.33 529.06,284.46 543.6,284.5" class="cv"/><rect x="398.2" y="175.7" width="145.4" height="112.8" class="fr"/><path d="M398.2,288.5h1.4M543.6,288.5h-1.4" class="tk"/><path d="M398.2,272.39h1.4M543.6,272.39h-1.4" class="tk"/><path d="M398.2,256.27h1.4M543.6,256.27h-1.4" class="tk"/><path d="M398.2,240.16h1.4M543.6,240.16h-1.4" class="tk"/><path d="M398.2,224.04h1.4M543.6,224.04h-1.4" class="tk"/><path d="M398.2,207.93h1.4M543.6,207.93h-1.4" class="tk"/><path d="M398.2,191.81h1.4M543.6,191.81h-1.4" class="tk"/><path d="M398.2,175.7h1.4M543.6,175.7h-1.4" class="tk"/><path d="M398.2,288.5v-1.4M398.2,175.7v1.4" class="tk"/><path d="M416.38,288.5v-1.4M416.38,175.7v1.4" class="tk"/><path d="M434.55,288.5v-1.4M434.55,175.7v1.4" class="tk"/><path d="M452.73,288.5v-1.4M452.73,175.7v1.4" class="tk"/><path d="M470.9,288.5v-1.4M470.9,175.7v1.4" class="tk"/><path d="M489.08,288.5v-1.4M489.08,175.7v1.4" class="tk"/><path d="M507.25,288.5v-1.4M507.25,175.7v1.4" class="tk"/><path d="M525.42,288.5v-1.4M525.42,175.7v1.4" class="tk"/><path d="M543.6,288.5v-1.4M543.6,175.7v1.4" class="tk"/></g><text x="396.4" y="290.44" class="tb" text-anchor="end">-20</text><text x="396.4" y="274.33" class="tb" text-anchor="end">-15</text><text x="396.4" y="258.22" class="tb" text-anchor="end">-10</text><text x="396.4" y="242.1" class="tb" text-anchor="end">-5</text><text x="396.4" y="225.99" class="tb" text-anchor="end">0</text><text x="396.4" y="209.87" class="tb" text-anchor="end">5</text><text x="396.4" y="193.76" class="tb" text-anchor="end">10</text><text x="396.4" y="177.64" class="tb" text-anchor="end">15</text><text x="398.2" y="295.59" class="tb" text-anchor="middle">-40</text><text x="416.38" y="295.59" class="tb" text-anchor="middle">-30</text><text x="434.55" y="295.59" class="tb" text-anchor="middle">-20</text><text x="452.73" y="295.59" class="tb" text-anchor="middle">-10</text><text x="470.9" y="295.59" class="tb" text-anchor="middle">0</text><text x="489.08" y="295.59" class="tb" text-anchor="middle">10</text><text x="507.25" y="295.59" class="tb" text-anchor="middle">20</text><text x="525.42" y="295.59" class="tb" text-anchor="middle">30</text><text x="543.6" y="295.59" class="tb" text-anchor="middle">40</text><text x="470.9" y="304.71" class="lb" text-anchor="middle">DOA(degree)</text><text transform="translate(385.31,232.1) rotate(-90)" class="lb" text-anchor="middle">Spectrum/(dB)</text><text x="467.5" y="320.3" class="pl" text-anchor="middle">(f)</text>
<g filter="url(#bl)"><line x1="23.2" y1="440.2" x2="168.6" y2="440.2" class="gr"/><line x1="23.2" y1="424" x2="168.6" y2="424" class="gr"/><line x1="23.2" y1="407.8" x2="168.6" y2="407.8" class="gr"/><line x1="23.2" y1="391.6" x2="168.6" y2="391.6" class="gr"/><line x1="23.2" y1="375.4" x2="168.6" y2="375.4" class="gr"/><line x1="23.2" y1="359.2" x2="168.6" y2="359.2" class="gr"/><line x1="41.38" y1="343" x2="41.38" y2="456.4" class="rd"/><line x1="50.46" y1="343" x2="50.46" y2="456.4" class="rd"/><line x1="59.55" y1="343" x2="59.55" y2="456.4" class="rd"/><line x1="68.64" y1="343" x2="68.64" y2="456.4" class="rd"/><line x1="77.73" y1="343" x2="77.73" y2="456.4" class="rd"/><line x1="86.81" y1="343" x2="86.81" y2="456.4" class="rd"/><line x1="95.9" y1="343" x2="95.9" y2="456.4" class="rd"/><line x1="104.99" y1="343" x2="104.99" y2="456.4" class="rd"/><line x1="114.08" y1="343" x2="114.08" y2="456.4" class="rd"/><line x1="123.16" y1="343" x2="123.16" y2="456.4" class="rd"/><line x1="132.25" y1="343" x2="132.25" y2="456.4" class="rd"/><line x1="141.34" y1="343" x2="141.34" y2="456.4" class="rd"/><line x1="150.43" y1="343" x2="150.43" y2="456.4" class="rd"/><path d="M23.2,452.5 34.1,452.49 35.47,452.45 36.38,452.34 36.83,452.22 37.29,452.01 37.65,451.74 37.92,451.44 38.4,450.6 38.83,449.28 39.1,448.01 39.38,446.23 39.75,442.58 40.1,437.25 40.43,429.84 40.7,420.94 40.95,409.43 41.38,380.26 41.8,409.43 42.05,420.94 42.32,429.84 42.62,436.66 42.92,441.57 43.36,446.14 43.81,448.8 44.1,449.91 44.35,450.58 44.65,451.14 45.02,451.59 45.46,451.88 46.01,451.97 46.47,451.84 46.92,451.5 47.19,451.14 47.49,450.58 47.74,449.91 48.01,448.9 48.37,446.89 48.73,443.86 49.01,440.29 49.28,435.46 49.74,422.71 50.12,405.16 50.46,380.26 50.79,403.84 51.14,420.94 51.55,433.46 51.83,438.86 52.1,442.72 52.37,445.49 52.74,448.02 53.19,449.91 53.64,450.99 53.92,451.39 54.28,451.73 54.64,451.9 55.1,451.94 55.46,451.84 55.82,451.6 56.15,451.23 56.46,450.67 56.82,449.67 57.12,448.46 57.37,447.01 57.64,444.83 58.1,439.14 58.46,431.66 58.78,421.85 59.07,408.75 59.55,373.46 60.03,408.75 60.32,421.85 60.63,431.52 61,439.14 61.41,444.35 61.91,448.1 62.19,449.34 62.55,450.47 62.82,451.03 63.09,451.42 63.46,451.76 63.87,451.96 64.32,452 64.73,451.9 65.09,451.68 65.45,451.29 65.91,450.43 66.36,448.92 66.73,446.91 67,444.7 67.27,441.61 67.55,437.3 67.96,427.31 68.31,413.66 68.64,394.84 68.98,414.71 69.36,428.72 69.82,438.9 70.09,442.75 70.37,445.61 70.76,448.21 71.18,449.92 71.64,451.01 71.91,451.41 72.27,451.76 72.73,451.99 73.18,452.06 73.64,451.97 74.09,451.72 74.45,451.33 74.75,450.85 75,450.27 75.29,449.32 75.74,447.02 76.18,443.09 76.48,438.86 76.78,432.99 77.05,425.33 77.3,415.42 77.73,390.3 78.07,411.74 78.45,426.85 78.91,437.83 79.18,441.99 79.45,444.97 79.82,447.67 80.16,449.32 80.54,450.5 80.81,451.05 81.09,451.44 81.45,451.77 81.81,451.95 82.27,452.02 82.72,451.93 83.09,451.72 83.45,451.34 83.72,450.92 84.03,450.21 84.36,449.09 84.63,447.75 85.08,444.33 85.45,439.59 85.8,432.72 86.09,424.31 86.36,413.28 86.81,384.15 87.11,405.26 87.45,421.1 87.83,432.72 88.08,438.07 88.36,442.16 88.63,445.09 88.94,447.42 89.27,449.09 89.72,450.53 89.99,451.06 90.27,451.44 90.54,451.68 90.9,451.87 91.27,451.92 91.63,451.85 91.99,451.63 92.27,451.35 92.72,450.58 93.08,449.52 93.45,447.87 93.72,446.04 93.99,443.48 94.26,439.92 94.66,432.11 95.01,421.05 95.35,404.76 95.64,385.18 95.9,359.52 96.16,385.18 96.45,404.76 96.79,421.05 97.14,432.11 97.54,439.92 97.81,443.48 98.08,446.04 98.35,447.87 98.72,449.52 99.08,450.58 99.54,451.36 99.81,451.64 100.17,451.85 100.53,451.93 100.9,451.89 101.26,451.72 101.53,451.48 101.81,451.13 102.08,450.62 102.53,449.25 102.86,447.66 103.17,445.44 103.44,442.65 103.72,438.76 103.97,433.66 104.35,422.59 104.69,407.5 104.99,387.39 105.47,416.46 105.76,427.25 106.07,435.22 106.44,441.5 106.85,445.79 107.35,448.87 107.62,449.9 107.99,450.82 108.26,451.28 108.62,451.68 108.98,451.91 109.35,452.03 109.75,452.03 110.18,451.9 110.53,451.67 110.89,451.27 111.35,450.39 111.8,448.84 112.17,446.78 112.44,444.52 112.71,441.36 112.98,436.96 113.4,426.74 113.75,412.79 114.08,393.54 114.5,417.35 114.75,426.74 115.02,434.01 115.32,439.57 115.62,443.58 116.06,447.31 116.51,449.48 116.98,450.81 117.26,451.28 117.62,451.69 117.98,451.94 118.44,452.1 118.98,452.11 119.44,451.98 119.76,451.8 120.07,451.5 120.35,451.13 120.62,450.6 121.04,449.34 121.43,447.43 121.71,445.33 121.98,442.49 122.44,435 122.82,424.69 123.16,410.07 123.51,424.69 123.89,435 124.34,442.49 124.62,445.33 124.89,447.36 125.25,449.2 125.62,450.38 126.07,451.27 126.62,451.83 126.98,452.02 127.43,452.11 127.89,452.08 128.26,451.95 128.61,451.72 128.89,451.43 129.16,451.03 129.47,450.37 129.8,449.32 130.07,448.06 130.51,444.87 130.89,440.45 131.24,434.03 131.53,426.18 131.8,415.89 132.25,388.68 132.57,409.51 132.93,424.62 133.34,435.68 133.61,440.45 133.89,443.86 134.16,446.31 134.52,448.53 134.89,449.95 135.34,451.01 135.65,451.46 135.98,451.75 136.34,451.93 136.79,451.99 137.17,451.91 137.52,451.72 137.88,451.36 138.15,450.95 138.52,450.1 138.79,449.16 139.07,447.85 139.35,445.91 139.79,441.18 140.18,434.39 140.52,424.97 140.82,412.75 141.09,397.17 141.34,377.67 141.79,409.56 142.06,421.64 142.35,430.84 142.7,438.37 143.07,443.55 143.52,447.3 143.79,448.77 144.15,450.1 144.43,450.77 144.7,451.24 145.06,451.65 145.43,451.88 145.88,451.99 146.26,451.95 146.7,451.74 147.06,451.39 147.34,450.99 147.61,450.41 147.99,449.17 148.33,447.44 148.7,444.61 148.97,441.5 149.24,437.14 149.7,425.65 150.08,409.83 150.43,387.39 150.85,413.68 151.1,424.05 151.37,432.07 151.7,438.76 152.05,443.56 152.42,446.85 152.7,448.45 152.97,449.6 153.4,450.79 153.88,451.55 154.51,452.06 155.42,452.36 156.33,452.45 157.69,452.49 168.6,452.5" class="cv"/><rect x="23.2" y="343" width="145.4" height="113.4" class="fr"/><path d="M23.2,456.4h1.4M168.6,456.4h-1.4" class="tk"/><path d="M23.2,440.2h1.4M168.6,440.2h-1.4" class="tk"/><path d="M23.2,424h1.4M168.6,424h-1.4" class="tk"/><path d="M23.2,407.8h1.4M168.6,407.8h-1.4" class="tk"/><path d="M23.2,391.6h1.4M168.6,391.6h-1.4" class="tk"/><path d="M23.2,375.4h1.4M168.6,375.4h-1.4" class="tk"/><path d="M23.2,359.2h1.4M168.6,359.2h-1.4" class="tk"/><path d="M23.2,343h1.4M168.6,343h-1.4" class="tk"/><path d="M23.2,456.4v-1.4M23.2,343v1.4" class="tk"/><path d="M41.38,456.4v-1.4M41.38,343v1.4" class="tk"/><path d="M59.55,456.4v-1.4M59.55,343v1.4" class="tk"/><path d="M77.73,456.4v-1.4M77.73,343v1.4" class="tk"/><path d="M95.9,456.4v-1.4M95.9,343v1.4" class="tk"/><path d="M114.08,456.4v-1.4M114.08,343v1.4" class="tk"/><path d="M132.25,456.4v-1.4M132.25,343v1.4" class="tk"/><path d="M150.43,456.4v-1.4M150.43,343v1.4" class="tk"/><path d="M168.6,456.4v-1.4M168.6,343v1.4" class="tk"/></g><text x="21.4" y="458.34" class="tb" text-anchor="end">-20</text><text x="21.4" y="442.14" class="tb" text-anchor="end">-15</text><text x="21.4" y="425.94" class="tb" text-anchor="end">-10</text><text x="21.4" y="409.74" class="tb" text-anchor="end">-5</text><text x="21.4" y="393.54" class="tb" text-anchor="end">0</text><text x="21.4" y="377.34" class="tb" text-anchor="end">5</text><text x="21.4" y="361.14" class="tb" text-anchor="end">10</text><text x="21.4" y="344.94" class="tb" text-anchor="end">15</text><text x="23.2" y="463.49" class="tb" text-anchor="middle">-40</text><text x="41.38" y="463.49" class="tb" text-anchor="middle">-30</text><text x="59.55" y="463.49" class="tb" text-anchor="middle">-20</text><text x="77.73" y="463.49" class="tb" text-anchor="middle">-10</text><text x="95.9" y="463.49" class="tb" text-anchor="middle">0</text><text x="114.08" y="463.49" class="tb" text-anchor="middle">10</text><text x="132.25" y="463.49" class="tb" text-anchor="middle">20</text><text x="150.43" y="463.49" class="tb" text-anchor="middle">30</text><text x="168.6" y="463.49" class="tb" text-anchor="middle">40</text><text x="95.9" y="472.21" class="lb" text-anchor="middle">DOA(degree)</text><text transform="translate(10.61,399.7) rotate(-90)" class="lb" text-anchor="middle">Spectrum/(dB)</text><text x="92.4" y="487.8" class="pl" text-anchor="middle">(g)</text>
<g filter="url(#bl)"><line x1="210.3" y1="441.13" x2="356.2" y2="441.13" class="gr"/><line x1="210.3" y1="424.76" x2="356.2" y2="424.76" class="gr"/><line x1="210.3" y1="408.39" x2="356.2" y2="408.39" class="gr"/><line x1="210.3" y1="392.01" x2="356.2" y2="392.01" class="gr"/><line x1="210.3" y1="375.64" x2="356.2" y2="375.64" class="gr"/><line x1="210.3" y1="359.27" x2="356.2" y2="359.27" class="gr"/><line x1="228.54" y1="342.9" x2="228.54" y2="457.5" class="rd"/><line x1="237.66" y1="342.9" x2="237.66" y2="457.5" class="rd"/><line x1="246.78" y1="342.9" x2="246.78" y2="457.5" class="rd"/><line x1="255.89" y1="342.9" x2="255.89" y2="457.5" class="rd"/><line x1="265.01" y1="342.9" x2="265.01" y2="457.5" class="rd"/><line x1="274.13" y1="342.9" x2="274.13" y2="457.5" class="rd"/><line x1="283.25" y1="342.9" x2="283.25" y2="457.5" class="rd"/><line x1="292.37" y1="342.9" x2="292.37" y2="457.5" class="rd"/><line x1="301.49" y1="342.9" x2="301.49" y2="457.5" class="rd"/><line x1="310.61" y1="342.9" x2="310.61" y2="457.5" class="rd"/><line x1="319.73" y1="342.9" x2="319.73" y2="457.5" class="rd"/><line x1="328.84" y1="342.9" x2="328.84" y2="457.5" class="rd"/><line x1="337.96" y1="342.9" x2="337.96" y2="457.5" class="rd"/><path d="M210.3,451.7 223.52,451.7 224.8,451.65 225.35,451.5 225.75,451.17 226.08,450.56 226.35,449.62 226.71,447.3 227.08,442.89 227.37,436.87 227.63,429.2 228.11,405.02 228.54,370.4 229.06,410.88 229.32,423.92 229.63,434.85 229.91,441.31 230.28,446.55 230.45,448.03 230.73,449.62 230.98,450.5 231.27,451.09 231.73,451.5 232.09,451.62 232.54,451.68 234.1,451.64 234.56,451.5 234.83,451.31 235.22,450.74 235.52,449.83 235.79,448.46 236.03,446.58 236.29,443.4 236.49,439.86 236.93,427.72 237.31,410.21 237.66,386.78 238.14,417.49 238.39,427.82 238.67,436.57 238.99,442.85 239.3,446.69 239.52,448.46 239.75,449.69 240.03,450.58 240.27,451.05 240.67,451.45 241.3,451.65 243.04,451.68 243.86,451.51 244.22,451.26 244.59,450.71 244.91,449.77 245.15,448.65 245.41,446.75 245.61,444.64 246.05,437.4 246.43,426.95 246.78,412.97 247.15,427.75 247.55,438.46 247.96,444.89 248.23,447.5 248.51,449.19 248.87,450.5 249.22,451.13 249.69,451.51 250.33,451.66 252.06,451.67 252.52,451.6 252.88,451.46 253.16,451.23 253.43,450.82 253.8,449.75 254.16,447.63 254.47,444.44 254.73,440.22 255,433.65 255.47,415.55 255.89,388.74 256.35,417.01 256.85,435.35 257.14,441.71 257.44,445.93 257.81,448.86 258.03,449.89 258.26,450.62 258.69,451.29 258.9,451.46 259.27,451.6 259.81,451.68 260.83,451.69 261.55,451.66 262,451.56 262.46,451.3 262.82,450.79 263.1,450.1 263.37,448.97 263.64,447.17 263.85,445.23 264.29,438.61 264.67,429.04 265.01,416.24 265.36,429.04 265.74,438.61 266.18,445.23 266.38,447.17 266.65,448.97 266.93,450.1 267.2,450.79 267.57,451.3 268.11,451.59 268.66,451.67 269.48,451.7 270.39,451.67 270.94,451.59 271.3,451.43 271.58,451.19 272,450.43 272.39,448.89 272.71,446.59 272.97,443.62 273.24,439 273.71,426.26 274.13,407.4 274.48,423.39 274.86,435.34 275.3,443.62 275.5,446.04 275.77,448.28 276.05,449.69 276.32,450.53 276.5,450.85 276.68,451.03 276.87,451.08 277.06,450.98 277.33,450.62 277.63,449.86 278.66,445.97 278.88,445.5 279.09,445.39 279.29,445.59 279.51,446.13 280.42,449.48 280.64,449.85 280.79,449.89 280.88,449.8 281.12,449.15 281.34,447.92 281.7,444.13 282,438.6 282.3,430.25 282.8,406.19 283.25,369.09 283.77,410.23 284.03,423.47 284.34,434.58 284.62,441.14 284.99,446.46 285.16,447.97 285.44,449.59 285.69,450.48 285.99,451.08 286.44,451.5 286.81,451.62 287.26,451.68 288.81,451.63 289.27,451.49 289.54,451.28 289.93,450.67 290.24,449.69 290.5,448.22 290.74,446.2 291,442.77 291.2,438.96 291.64,425.91 292.02,407.07 292.37,381.86 292.72,407.07 293.1,425.91 293.53,438.96 293.74,442.77 294.01,446.31 294.28,448.55 294.56,449.91 294.92,450.9 295.16,451.24 295.47,451.49 296.02,451.65 296.93,451.69 297.84,451.65 298.39,451.48 298.7,451.23 298.93,450.87 299.21,450.18 299.39,449.45 299.75,447.01 300.06,443.34 300.32,438.48 300.6,430.92 301.06,410.09 301.49,379.24 301.97,413.53 302.22,425.05 302.49,434.4 302.76,440.82 303.12,445.99 303.49,448.99 303.68,449.85 303.95,450.68 304.13,451.03 304.41,451.35 304.68,451.52 305.04,451.63 305.82,451.69 306.87,451.67 307.32,451.59 307.69,451.41 308.05,451.02 308.42,450.18 308.69,449.02 308.96,447.12 309.24,444.11 309.44,440.87 309.88,429.78 310.26,413.76 310.61,392.34 310.95,413.76 311.33,429.78 311.77,440.87 311.97,444.11 312.25,447.12 312.52,449.02 312.79,450.18 313.16,451.02 313.4,451.31 313.71,451.52 314.16,451.64 314.98,451.69 315.99,451.66 316.53,451.54 316.9,451.3 317.17,450.94 317.59,449.79 317.98,447.48 318.3,444.02 318.56,439.56 318.84,432.61 319.3,413.48 319.73,385.14 320.15,413.48 320.61,432.61 320.89,439.56 321.15,444.02 321.46,447.39 321.82,449.64 322.01,450.31 322.28,450.94 322.52,451.26 322.83,451.5 323.28,451.64 324.1,451.69 325.19,451.66 325.74,451.53 326.05,451.35 326.29,451.08 326.66,450.32 326.93,449.26 327.2,447.53 327.48,444.78 327.68,441.83 328.12,431.71 328.5,417.11 328.84,397.58 329.17,416.04 329.52,430.23 329.93,440.48 330.39,446.74 330.59,448.27 330.85,449.67 331.21,450.77 331.58,451.3 332.04,451.57 332.85,451.68 334.22,451.65 334.86,451.44 335.23,451.07 335.59,450.25 335.83,449.28 336.05,447.9 336.44,443.6 336.8,436.33 337.13,425.23 337.42,411.07 337.96,367.46 338.39,403.32 338.87,428.39 339.13,436.33 339.42,442.57 339.79,447.14 340.15,449.55 340.42,450.52 340.75,451.15 341.15,451.49 341.7,451.65 342.98,451.7 356.2,451.7" class="cv"/><rect x="210.3" y="342.9" width="145.9" height="114.6" class="fr"/><path d="M210.3,457.5h1.4M356.2,457.5h-1.4" class="tk"/><path d="M210.3,441.13h1.4M356.2,441.13h-1.4" class="tk"/><path d="M210.3,424.76h1.4M356.2,424.76h-1.4" class="tk"/><path d="M210.3,408.39h1.4M356.2,408.39h-1.4" class="tk"/><path d="M210.3,392.01h1.4M356.2,392.01h-1.4" class="tk"/><path d="M210.3,375.64h1.4M356.2,375.64h-1.4" class="tk"/><path d="M210.3,359.27h1.4M356.2,359.27h-1.4" class="tk"/><path d="M210.3,342.9h1.4M356.2,342.9h-1.4" class="tk"/><path d="M210.3,457.5v-1.4M210.3,342.9v1.4" class="tk"/><path d="M228.54,457.5v-1.4M228.54,342.9v1.4" class="tk"/><path d="M246.78,457.5v-1.4M246.78,342.9v1.4" class="tk"/><path d="M265.01,457.5v-1.4M265.01,342.9v1.4" class="tk"/><path d="M283.25,457.5v-1.4M283.25,342.9v1.4" class="tk"/><path d="M301.49,457.5v-1.4M301.49,342.9v1.4" class="tk"/><path d="M319.73,457.5v-1.4M319.73,342.9v1.4" class="tk"/><path d="M337.96,457.5v-1.4M337.96,342.9v1.4" class="tk"/><path d="M356.2,457.5v-1.4M356.2,342.9v1.4" class="tk"/></g><text x="208.5" y="459.19" class="ts" text-anchor="end">-20</text><text x="208.5" y="442.82" class="ts" text-anchor="end">-15</text><text x="208.5" y="426.45" class="ts" text-anchor="end">-10</text><text x="208.5" y="410.08" class="ts" text-anchor="end">-5</text><text x="208.5" y="393.71" class="ts" text-anchor="end">0</text><text x="208.5" y="377.33" class="ts" text-anchor="end">5</text><text x="208.5" y="360.96" class="ts" text-anchor="end">10</text><text x="208.5" y="344.59" class="ts" text-anchor="end">15</text><text x="210.3" y="464.08" class="ts" text-anchor="middle">-40</text><text x="228.54" y="464.08" class="ts" text-anchor="middle">-30</text><text x="246.78" y="464.08" class="ts" text-anchor="middle">-20</text><text x="265.01" y="464.08" class="ts" text-anchor="middle">-10</text><text x="283.25" y="464.08" class="ts" text-anchor="middle">0</text><text x="301.49" y="464.08" class="ts" text-anchor="middle">10</text><text x="319.73" y="464.08" class="ts" text-anchor="middle">20</text><text x="337.96" y="464.08" class="ts" text-anchor="middle">30</text><text x="356.2" y="464.08" class="ts" text-anchor="middle">40</text><text x="283.25" y="470.76" class="ls" text-anchor="middle">DOA(degree)</text><text transform="translate(200.06,400.2) rotate(-90)" class="ls" text-anchor="middle">Spectrum/(dB)</text><text x="279.9" y="487.8" class="pl" text-anchor="middle">(h)</text>
<g filter="url(#bl)"><line x1="398.2" y1="441.43" x2="543.6" y2="441.43" class="gr"/><line x1="398.2" y1="424.96" x2="543.6" y2="424.96" class="gr"/><line x1="398.2" y1="408.49" x2="543.6" y2="408.49" class="gr"/><line x1="398.2" y1="392.01" x2="543.6" y2="392.01" class="gr"/><line x1="398.2" y1="375.54" x2="543.6" y2="375.54" class="gr"/><line x1="398.2" y1="359.07" x2="543.6" y2="359.07" class="gr"/><line x1="416.38" y1="342.6" x2="416.38" y2="457.9" class="rd"/><line x1="425.46" y1="342.6" x2="425.46" y2="457.9" class="rd"/><line x1="434.55" y1="342.6" x2="434.55" y2="457.9" class="rd"/><line x1="443.64" y1="342.6" x2="443.64" y2="457.9" class="rd"/><line x1="452.73" y1="342.6" x2="452.73" y2="457.9" class="rd"/><line x1="461.81" y1="342.6" x2="461.81" y2="457.9" class="rd"/><line x1="470.9" y1="342.6" x2="470.9" y2="457.9" class="rd"/><line x1="479.99" y1="342.6" x2="479.99" y2="457.9" class="rd"/><line x1="489.08" y1="342.6" x2="489.08" y2="457.9" class="rd"/><line x1="498.16" y1="342.6" x2="498.16" y2="457.9" class="rd"/><line x1="507.25" y1="342.6" x2="507.25" y2="457.9" class="rd"/><line x1="516.34" y1="342.6" x2="516.34" y2="457.9" class="rd"/><line x1="525.42" y1="342.6" x2="525.42" y2="457.9" class="rd"/><path d="M398.2,451.7 409.65,451.69 411.74,451.57 412.56,451.31 412.92,451.05 413.19,450.76 413.65,449.93 414.01,448.79 414.47,446.25 414.86,442.39 415.19,436.9 415.49,429.49 415.74,420.24 415.98,408.06 416.38,376.53 416.68,402.09 417.05,422.09 417.47,434.93 417.7,439.59 418,443.65 418.28,446.25 418.65,448.4 419.1,449.93 419.56,450.74 419.92,451.09 420.37,451.32 420.92,451.4 421.47,451.29 421.92,451.02 422.28,450.62 422.55,450.13 422.83,449.43 423.1,448.4 423.37,446.9 423.83,442.74 424.19,436.92 424.51,428.62 424.79,418.2 425.04,404.16 425.46,366.65 425.91,406.05 426.19,420.3 426.46,430.2 426.79,438 427.19,443.79 427.64,447.46 427.92,448.79 428.24,449.84 428.55,450.47 428.82,450.84 429.19,451.15 429.63,451.34 430.19,451.38 430.64,451.26 431.01,451.04 431.37,450.65 431.64,450.18 431.91,449.5 432.28,448.08 432.64,445.73 432.93,442.87 433.22,438.42 433.46,433.31 433.87,419.24 434.25,397.31 434.55,369.28 434.97,405.63 435.23,419.24 435.5,429.33 435.82,437.38 436.17,442.87 436.55,446.43 436.82,448.08 437.09,449.21 437.37,449.98 437.64,450.51 437.95,450.91 438.37,451.22 438.91,451.39 439.46,451.36 439.91,451.19 440.37,450.8 440.66,450.36 440.91,449.83 441.36,448.22 441.73,445.94 442.01,443.19 442.31,438.9 442.55,433.97 442.96,420.4 443.34,399.26 443.64,372.25 444.01,403.92 444.47,426.29 444.73,433.97 445.06,440.43 445.37,444.42 445.82,447.74 446.07,448.9 446.36,449.83 446.64,450.41 447,450.9 447.45,451.24 448,451.41 448.64,451.37 449.18,451.13 449.54,450.79 449.82,450.39 450.09,449.81 450.36,448.95 450.74,447.09 451.09,444.23 451.36,440.83 451.63,435.88 452.05,423.78 452.42,404.92 452.73,380.81 453.03,404.92 453.36,422.03 453.74,434.13 453.97,438.84 454.24,442.92 454.54,445.88 454.82,447.7 455.18,449.27 455.63,450.39 455.91,450.79 456.27,451.12 456.62,451.31 457,451.39 457.45,451.38 457.82,451.28 458.18,451.08 458.54,450.71 459,449.87 459.36,448.69 459.63,447.32 459.9,445.32 460.36,439.79 460.72,432.06 461.04,421.38 461.33,406.46 461.81,363.68 462.06,389.03 462.33,408.51 462.63,423.13 462.97,433.86 463.36,441.19 463.81,446.07 464.09,447.84 464.41,449.24 464.79,450.22 465.22,450.86 465.54,451.14 465.98,451.33 466.36,451.38 466.81,451.32 467.17,451.17 467.54,450.87 467.81,450.51 468.08,449.98 468.47,448.79 468.81,447.05 469.08,444.93 469.38,441.49 469.66,436.75 469.89,431.27 470.27,417.21 470.6,397.31 470.9,369.28 471.32,405.63 471.58,419.24 471.85,429.33 472.17,437.38 472.52,442.87 472.9,446.43 473.17,448.08 473.44,449.21 473.72,449.98 473.99,450.51 474.3,450.92 474.72,451.22 475.26,451.39 475.81,451.37 476.26,451.21 476.72,450.85 477.01,450.44 477.26,449.93 477.71,448.4 478.08,446.25 478.36,443.65 478.66,439.59 478.9,434.93 479.31,422.09 479.69,402.09 479.99,376.53 480.29,402.09 480.66,422.09 481.08,434.93 481.35,440.17 481.62,443.78 481.97,446.82 482.35,448.78 482.8,450.13 483.08,450.61 483.44,451.02 483.9,451.3 484.44,451.41 484.99,451.35 485.53,451.07 485.89,450.69 486.26,450.05 486.53,449.31 486.8,448.22 487.26,445.21 487.62,440.99 487.91,435.66 488.19,428.33 488.44,418.59 488.68,405.77 489.08,372.58 489.38,399.48 489.75,420.53 490.17,434.05 490.4,438.95 490.7,443.23 490.98,445.97 491.35,448.22 491.71,449.59 491.98,450.24 492.26,450.69 492.62,451.06 493.06,451.31 493.53,451.39 494,451.34 494.44,451.15 494.8,450.83 495.07,450.46 495.38,449.81 495.71,448.74 495.98,447.4 496.44,443.67 496.84,437.79 497.16,429.86 497.44,419.82 497.71,405.34 498.16,365.33 498.61,405.34 498.89,419.82 499.18,430.29 499.53,438.45 499.98,444.61 500.25,446.83 500.53,448.35 500.8,449.39 501.16,450.29 501.43,450.72 501.8,451.09 502.16,451.29 502.62,451.39 503.08,451.37 503.52,451.21 503.89,450.94 504.25,450.47 504.71,449.43 505.07,447.96 505.39,445.87 505.71,442.72 505.98,438.64 506.24,433.07 506.61,420.36 506.95,402.09 507.25,376.53 507.55,402.09 507.93,422.09 508.34,434.93 508.61,440.17 508.89,443.78 509.24,446.82 509.61,448.78 509.89,449.69 510.16,450.31 510.43,450.74 510.79,451.09 511.34,451.35 511.88,451.4 512.44,451.26 512.93,450.92 513.34,450.36 513.61,449.76 513.91,448.79 514.16,447.6 514.6,444.15 514.92,440.01 515.25,433.31 515.51,425.34 515.97,402.14 516.34,369.28 516.76,405.63 517.01,419.24 517.29,429.33 517.61,437.38 517.97,443.01 518.43,447.05 518.7,448.5 518.97,449.5 519.25,450.18 519.52,450.65 519.88,451.04 520.34,451.3 520.88,451.4 521.43,451.31 521.88,451.06 522.24,450.69 522.7,449.83 523.15,448.22 523.52,445.97 523.8,443.23 524.1,438.95 524.33,434.05 524.75,420.53 525.12,399.48 525.42,372.58 525.82,405.77 526.06,418.59 526.31,428.33 526.61,436.12 526.94,441.9 527.33,445.97 527.79,448.63 528.15,449.84 528.61,450.71 528.88,451.02 529.24,451.28 530.06,451.57 530.88,451.66 532.15,451.69 543.6,451.7" class="cv"/><rect x="398.2" y="342.6" width="145.4" height="115.3" class="fr"/><path d="M398.2,457.9h1.4M543.6,457.9h-1.4" class="tk"/><path d="M398.2,441.43h1.4M543.6,441.43h-1.4" class="tk"/><path d="M398.2,424.96h1.4M543.6,424.96h-1.4" class="tk"/><path d="M398.2,408.49h1.4M543.6,408.49h-1.4" class="tk"/><path d="M398.2,392.01h1.4M543.6,392.01h-1.4" class="tk"/><path d="M398.2,375.54h1.4M543.6,375.54h-1.4" class="tk"/><path d="M398.2,359.07h1.4M543.6,359.07h-1.4" class="tk"/><path d="M398.2,342.6h1.4M543.6,342.6h-1.4" class="tk"/><path d="M398.2,457.9v-1.4M398.2,342.6v1.4" class="tk"/><path d="M416.38,457.9v-1.4M416.38,342.6v1.4" class="tk"/><path d="M434.55,457.9v-1.4M434.55,342.6v1.4" class="tk"/><path d="M452.73,457.9v-1.4M452.73,342.6v1.4" class="tk"/><path d="M470.9,457.9v-1.4M470.9,342.6v1.4" class="tk"/><path d="M489.08,457.9v-1.4M489.08,342.6v1.4" class="tk"/><path d="M507.25,457.9v-1.4M507.25,342.6v1.4" class="tk"/><path d="M525.42,457.9v-1.4M525.42,342.6v1.4" class="tk"/><path d="M543.6,457.9v-1.4M543.6,342.6v1.4" class="tk"/></g><text x="396.4" y="459.59" class="ts" text-anchor="end">-20</text><text x="396.4" y="443.12" class="ts" text-anchor="end">-15</text><text x="396.4" y="426.65" class="ts" text-anchor="end">-10</text><text x="396.4" y="410.18" class="ts" text-anchor="end">-5</text><text x="396.4" y="393.71" class="ts" text-anchor="end">0</text><text x="396.4" y="377.23" class="ts" text-anchor="end">5</text><text x="396.4" y="360.76" class="ts" text-anchor="end">10</text><text x="396.4" y="344.29" class="ts" text-anchor="end">15</text><text x="398.2" y="464.48" class="ts" text-anchor="middle">-40</text><text x="416.38" y="464.48" class="ts" text-anchor="middle">-30</text><text x="434.55" y="464.48" class="ts" text-anchor="middle">-20</text><text x="452.73" y="464.48" class="ts" text-anchor="middle">-10</text><text x="470.9" y="464.48" class="ts" text-anchor="middle">0</text><text x="489.08" y="464.48" class="ts" text-anchor="middle">10</text><text x="507.25" y="464.48" class="ts" text-anchor="middle">20</text><text x="525.42" y="464.48" class="ts" text-anchor="middle">30</text><text x="543.6" y="464.48" class="ts" text-anchor="middle">40</text><text x="470.9" y="470.76" class="ls" text-anchor="middle">DOA(degree)</text><text transform="translate(387.76,400.2) rotate(-90)" class="ls" text-anchor="middle">Spectrum/(dB)</text><text x="467.3" y="487.6" class="pl" text-anchor="middle">(i)</text>
</svg></body></html>
